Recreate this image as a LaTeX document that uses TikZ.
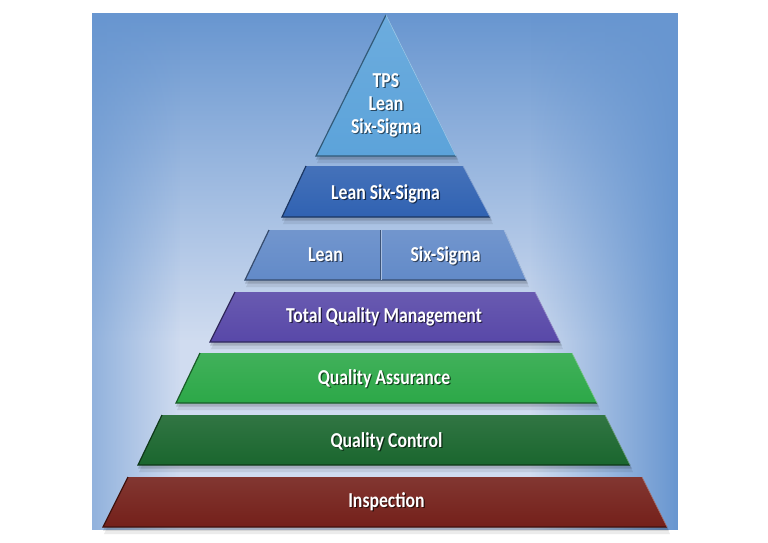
\documentclass[tikz,border=0pt]{standalone}
\usepackage{fontspec}
\setmainfont{Carlito}
\usetikzlibrary{fadings}
\definecolor{bgblue}{RGB}{104,150,208}
\definecolor{bglight}{RGB}{208,220,240}
\definecolor{cA}{RGB}{92,163,218}
\definecolor{cB}{RGB}{48,98,178}
\definecolor{cC}{RGB}{98,138,200}
\definecolor{cD}{RGB}{88,72,168}
\definecolor{cE}{RGB}{44,168,72}
\definecolor{cF}{RGB}{26,102,46}
\definecolor{cG}{RGB}{116,32,26}
\tikzfading[name=fadeleft, left color=transparent!100, right color=transparent!0]
\tikzfading[name=faderight, left color=transparent!0, right color=transparent!100]
\tikzfading[name=fadedown, top color=transparent!0, bottom color=transparent!100]
\newcommand{\lblbox}[1]{\scalebox{1}[1.2]{#1}}
\tikzset{
  lbl/.style={anchor=base, inner sep=0pt, text=white, font=\fontsize{17.7}{20}\selectfont\bfseries},
}
% colour, x left-top, x right-top, x right-bottom, x left-bottom, y top, y bottom
\newcommand{\pyrlayer}[7]{%
  \fill[black, opacity=0.08] (#2+2,#6+3) -- (#3+2,#6+3) -- (#4+3,#7+7) -- (#5+1,#7+7) -- cycle;
  \fill[black, opacity=0.14] (#2+1,#6+2) -- (#3+1,#6+2) -- (#4+2,#7+3.5) -- (#5,#7+3.5) -- cycle;
  \shade[top color=#1!90!white, bottom color=#1] (#2,#6) -- (#3,#6) -- (#4,#7) -- (#5,#7) -- cycle;
  \draw[#1!55!black, line width=1.2pt] (#2,#6) -- (#5,#7) -- (#4,#7);
  \draw[#1!60!white, line width=0.6pt] (#3,#6) -- (#4,#7);
}
% name, x, baseline y, text, shadow colour
\newcommand{\plabel}[5]{%
  \node[lbl] (#1) at (#2,#3) {\lblbox{\rlap{\hspace{1.2pt}\raisebox{-1.5pt}{\color{#5}#4}}#4}};
}
\begin{document}
\begin{tikzpicture}[x=1pt,y=-1pt]
\useasboundingbox (0,0) rectangle (768,543);
% background
\fill[bglight] (92,13) rectangle (678,530);
\fill[bgblue, path fading=fadedown] (92,13) rectangle (678,340);
\fill[bgblue, path fading=fadeleft] (530,13) rectangle (678,530);
\fill[bgblue, path fading=faderight, opacity=0.6] (92,13) rectangle (180,530);
% layers
\pyrlayer{cA}{386}{386}{456}{316}{15}{156}
\pyrlayer{cB}{306}{463}{490}{282}{166}{217}
\pyrlayer{cC}{269}{504}{526}{245}{230}{280}
\pyrlayer{cD}{235}{535}{560}{210}{292}{342}
\pyrlayer{cE}{200}{572}{597}{176}{353}{403}
\pyrlayer{cF}{162}{605}{630}{138}{415}{465}
\pyrlayer{cG}{128}{642}{667}{103}{477}{527}
% divider in the Lean | Six-Sigma layer
\draw[cC!60!black, line width=0.8pt] (380,230) -- (380,280);
\draw[cC!55!white, line width=0.8pt] (381.3,230) -- (381.3,280);
% labels
\plabel{tps}{386}{87}{TPS}{cA!45!black}
\plabel{tpslean}{386}{110}{Lean}{cA!45!black}
\plabel{tpssix}{386}{133}{Six-Sigma}{cA!45!black}
\plabel{lss}{385.5}{199}{Lean Six-Sigma}{cB!40!black}
\plabel{lean}{325.5}{261}{Lean}{cC!45!black}
\plabel{six}{445.5}{261}{Six-Sigma}{cC!45!black}
\plabel{tqm}{384}{322}{Total Quality Management}{cD!40!black}
\plabel{qa}{384}{384}{Quality Assurance}{cE!40!black}
\plabel{qc}{386.5}{447}{Quality Control}{cF!40!black}
\plabel{insp}{386.5}{507}{Inspection}{cG!40!black}
\end{tikzpicture}
\end{document}
